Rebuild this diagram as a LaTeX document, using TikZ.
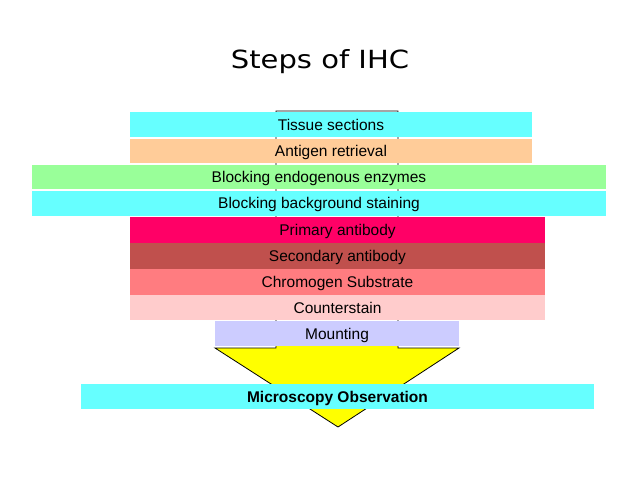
\documentclass[tikz,border=0pt]{standalone}
\usepackage{fontspec}
\setmainfont{Liberation Sans}
\newfontfamily\titlefont{DejaVu Sans}
\definecolor{cyanbar}{HTML}{66FFFF}
\definecolor{peachbar}{HTML}{FFCC99}
\definecolor{greenbar}{HTML}{99FF99}
\definecolor{primbar}{HTML}{FF0066}
\definecolor{secbar}{HTML}{C0504D}
\definecolor{chrombar}{HTML}{FF7C80}
\definecolor{countbar}{HTML}{FFCCCC}
\definecolor{mountbar}{HTML}{CCCCFF}
\definecolor{arrowyellow}{HTML}{FFFF00}
\begin{document}
\begin{tikzpicture}[x=1pt,y=-1pt,
  bar/.style={draw=none, inner sep=0pt, outer sep=0pt, text=black,
    font=\fontsize{15.5}{18}\selectfont, text height=11.1pt, text depth=0pt},
  arrowline/.style={draw=black, line width=0.8pt, line join=miter}]
\useasboundingbox[fill=white] (0,0) rectangle (638,479);
% title
\node[anchor=base, inner sep=0pt] (title) at (320,68)
  {\scalebox{1.16}[1]{\titlefont\fontsize{25}{30}\selectfont Steps of IHC}};
% big arrow behind the bars
\fill[white] (276,111) -- (398,111) -- (398,346) -- (276,346) -- cycle;
\fill[arrowyellow] (276,345) -- (398,345) -- (398,348) -- (459,348) -- (338,427)
  -- (215,348) -- (276,348) -- cycle;
\draw[arrowline] (276,348) -- (276,111) -- (398,111) -- (398,348) -- (459,348)
  -- (338,427) -- (215,348) -- cycle;
% bars
\node[bar, fill=cyanbar, minimum width=402pt, minimum height=25pt] (tissue) at (331,124.5) {Tissue sections};
\node[bar, fill=peachbar, minimum width=402pt, minimum height=24.5pt] (antigen) at (331,151) {Antigen retrieval};
\node[bar, fill=greenbar, minimum width=574pt, minimum height=24.5pt] (endog) at (319,177) {Blocking endogenous enzymes};
\node[bar, fill=cyanbar, minimum width=574pt, minimum height=25pt] (backgr) at (319,203) {Blocking background staining};
\node[bar, fill=primbar, minimum width=415pt, minimum height=26pt] (primary) at (337.5,229.5) {Primary antibody};
\node[bar, fill=secbar, minimum width=415pt, minimum height=26pt] (secondary) at (337.5,255.5) {Secondary antibody};
\node[bar, fill=chrombar, minimum width=415pt, minimum height=26pt] (chromogen) at (337.5,281.5) {Chromogen Substrate};
\node[bar, fill=countbar, minimum width=415pt, minimum height=25.5pt] (counter) at (337.5,307.5) {Counterstain};
\node[bar, fill=mountbar, minimum width=244pt, minimum height=25pt] (mounting) at (337,333.5) {Mounting};
\node[bar, fill=cyanbar, minimum width=513pt, minimum height=25pt, font=\fontsize{15.5}{18}\selectfont\bfseries] (micro) at (337.5,396.5) {Microscopy Observation};
\end{tikzpicture}
\end{document}
